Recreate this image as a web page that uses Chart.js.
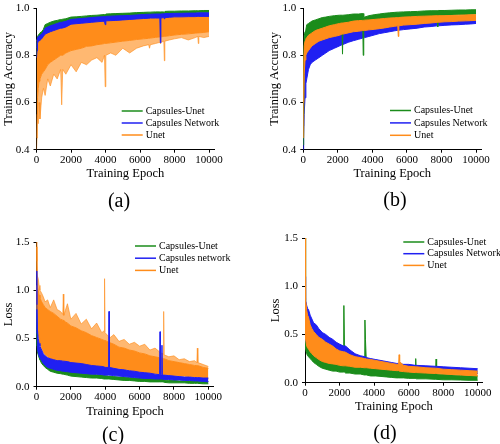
<!DOCTYPE html>
<html>
<head>
<meta charset="utf-8">
<script src="https://cdn.jsdelivr.net/npm/chart.js@4"></script>
<style>
body { margin: 0; background: #fff; }
#wrap { position: relative; width: 500px; height: 444px; }
.panel { position: absolute; width: 250px; height: 222px; }
.cap { position: absolute; font-family: "Liberation Serif", "Times New Roman", serif; font-size: 20px; transform: translate(-50%, -50%); color: #000; }
</style>
</head>
<body>
<div id="wrap">
  <div class="panel" style="left:0;top:0"><canvas id="chartA" width="250" height="222"></canvas></div>
  <div class="panel" style="left:250px;top:0"><canvas id="chartB" width="250" height="222"></canvas></div>
  <div class="panel" style="left:0;top:222px"><canvas id="chartC" width="250" height="222"></canvas></div>
  <div class="panel" style="left:250px;top:222px"><canvas id="chartD" width="250" height="222"></canvas></div>
  <div class="cap" style="left:119px;top:200px">(a)</div>
  <div class="cap" style="left:395px;top:199px">(b)</div>
  <div class="cap" style="left:113px;top:434px">(c)</div>
  <div class="cap" style="left:385px;top:432px">(d)</div>
</div>
<script>
// tick labels
const epochTicks = [0, 2000, 4000, 6000, 8000, 10000];
const accTicks = [0.4, 0.6, 0.8, 1.0];
const lossTicks = [0, 0.5, 1.0, 1.5];
const legendAB = ['Capsules-Unet', 'Capsules Network', 'Unet'];
const legendC = ['Capsules-Unet', 'Capsules network', 'Unet'];

// (a) training accuracy, upper / lower edge of each noisy band
const epochsA = [0,30,60,100,150,200,300,400,500,650, 800,1000,1200,1400,1460,1520,1700,2000,2300,2600, 2900,3200,3500,3800,3940,3980,4020,4300,4600,5000, 5400,5800,6200,6500,6550,6600,6900,7150,7180,7210, 7380,7410,7440,7700,8000,8400,8800,9200,9350,9380, 9410,9700,10000];
const greenHiA = [.84,.87,.88,.885,.89,.895,.90,.91,.93,.935, .94,.945,.948,.952,.952,.953,.955,.962,.963,.965, .967,.969,.97,.972,.973,.973,.975,.976,.977,.978, .979,.981,.982,.983,.983,.983,.984,.984,.984,.984, .984,.978,.986,.987,.987,.988,.988,.989,.989,.989, .989,.99,.99];
const greenLoA = [.80,.84,.86,.87,.872,.875,.88,.89,.905,.912, .918,.925,.93,.934,.934,.935,.938,.948,.95,.952, .954,.956,.958,.96,.96,.955,.962,.963,.965,.967, .968,.97,.972,.972,.972,.973,.973,.974,.974,.974, .974,.962,.976,.977,.978,.978,.979,.979,.98,.98, .98,.98,.98];
const blueHiA = [.83,.87,.875,.88,.882,.885,.89,.90,.915,.92, .925,.93,.935,.94,.94,.941,.944,.952,.954,.956, .958,.96,.962,.963,.964,.964,.965,.966,.967,.968, .969,.971,.973,.974,.974,.974,.975,.975,.975,.975, .976,.976,.977,.977,.978,.978,.979,.979,.98,.98, .98,.98,.98];
const blueLoA = [.79,.82,.85,.86,.862,.865,.87,.88,.89,.895, .90,.905,.91,.915,.915,.916,.92,.932,.934,.936, .938,.94,.942,.944,.944,.93,.946,.947,.948,.95, .952,.954,.956,.957,.957,.958,.958,.958,.853,.958, .96,.955,.96,.961,.963,.963,.964,.964,.965,.965, .965,.965,.965];
const orangeHiA = [.86,.865,.87,.875,.878,.88,.885,.89,.90,.903, .906,.91,.915,.92,.92,.921,.925,.935,.937,.94, .942,.944,.946,.948,.949,.949,.952,.953,.954,.955, .957,.96,.962,.963,.963,.963,.964,.965,.965,.965, .966,.966,.966,.967,.968,.969,.97,.97,.971,.971, .971,.972,.972];
const orangeLoA = [.45,.55,.62,.66,.69,.70,.72,.73,.74,.76, .77,.78,.79,.80,.80,.80,.81,.82,.825,.83, .838,.84,.845,.848,.85,.85,.85,.853,.856,.86, .863,.867,.87,.872,.872,.873,.876,.878,.878,.878, .88,.88,.88,.883,.886,.889,.891,.894,.895,.895, .895,.897,.90];
// lighter downward spikes under the dense orange band
const orangeSpikeA = [.40,.45,.55,.51,.60,.53,.62,.66,.63,.70, .67,.72,.70,.74,.59,.74,.72,.76,.73,.77, .76,.78,.79,.77,.80,.667,.80,.81,.80,.83, .81,.83,.84,.845,.83,.845,.85,.855,.85,.855, .86,.777,.86,.865,.87,.875,.865,.875,.88,.85, .88,.875,.88];

// (b) training accuracy
const epochsB = [0,20,50,100,150,200,300,400,500,700, 900,1100,1300,1500,1800,2100,2240,2270,2300,2600, 2900,3200,3440,3470,3500,3550,3800,4100,4400,4700, 5000,5300,5470,5500,5530,5800,6200,6600,7000,7400, 7750,7780,7810,8200,8600,9000,9400,9700,10000];
const greenHiB = [.55,.80,.88,.90,.91,.93,.935,.94,.945,.95, .955,.96,.962,.965,.968,.97,.97,.97,.97,.972, .975,.975,.977,.977,.96,.962,.968,.972,.975,.978, .98,.982,.983,.983,.983,.984,.985,.986,.988,.989, .989,.989,.99,.99,.991,.992,.992,.993,.993];
const greenLoB = [.42,.60,.80,.85,.86,.87,.88,.885,.89,.895, .90,.905,.91,.915,.92,.925,.925,.805,.93,.93, .935,.94,.94,.80,.93,.94,.945,.948,.95,.952, .955,.957,.958,.958,.958,.96,.962,.963,.965,.966, .967,.92,.968,.97,.971,.972,.973,.974,.975];
const blueHiB = [.50,.62,.70,.78,.80,.82,.83,.84,.85,.86, .87,.875,.88,.885,.89,.895,.896,.896,.897,.90, .905,.91,.913,.913,.915,.915,.917,.92,.923,.926, .93,.933,.935,.935,.935,.937,.94,.943,.945,.947, .95,.95,.95,.952,.954,.955,.956,.957,.958];
const blueLoB = [.40,.45,.55,.62,.68,.70,.74,.76,.77,.78, .79,.80,.81,.82,.83,.84,.845,.845,.846,.855, .862,.868,.873,.873,.874,.875,.88,.886,.892,.896, .90,.904,.906,.906,.906,.909,.912,.915,.92,.922, .925,.925,.925,.927,.929,.93,.932,.933,.935];
const orangeHiB = [.60,.78,.84,.86,.87,.875,.885,.89,.895,.905, .91,.915,.92,.925,.93,.935,.937,.937,.937,.94, .945,.947,.948,.948,.948,.949,.95,.952,.954,.956, .958,.959,.96,.96,.96,.962,.963,.965,.966,.967, .968,.968,.968,.968,.969,.97,.971,.972,.972];
const orangeLoB = [.45,.60,.72,.78,.80,.81,.82,.83,.84,.85, .86,.865,.87,.875,.88,.885,.89,.89,.89,.895, .90,.902,.905,.905,.905,.905,.908,.91,.913,.916, .92,.923,.925,.88,.925,.928,.93,.932,.935,.937, .94,.94,.94,.942,.943,.945,.946,.947,.948];

// (c) loss
const epochsC = [0,20,50,100,150,200,300,400,500,650, 800,1000,1200,1400,1530,1560,1590,1800,2000,2300, 2600,2900,3200,3500,3800,3930,3960,3990,4200,4220, 4240,4500,4800,5100,5400,5700,6000,6300,6600,6900, 7170,7190,7210,7280,7300,7320,7370,7400,7430,7700, 8000,8300,8600,8900,9200,9330,9360,9390,9700,10000];
const greenHiC = [.85,.60,.45,.40,.37,.35,.31,.28,.26,.24, .22,.20,.19,.18,.175,.175,.175,.165,.155,.15, .145,.14,.13,.125,.12,.12,.12,.115,.11,.11, .11,.105,.10,.10,.095,.09,.09,.085,.085,.08, .08,.08,.08,.08,.08,.08,.08,.085,.07,.065, .065,.06,.06,.06,.06,.06,.06,.06,.055,.055];
const greenLoC = [.60,.42,.36,.33,.30,.28,.24,.22,.20,.18, .16,.15,.14,.135,.13,.13,.13,.12,.11,.105, .10,.095,.09,.09,.085,.08,.08,.08,.08,.08, .08,.075,.07,.065,.065,.06,.055,.055,.05,.05, .05,.05,.05,.05,.05,.05,.05,.05,.045,.04, .04,.04,.04,.035,.035,.035,.035,.035,.03,.03];
const blueHiC = [1.20,.85,.60,.50,.45,.42,.38,.34,.32,.30, .29,.28,.27,.27,.265,.265,.265,.26,.25,.245, .24,.23,.22,.215,.21,.205,.205,.20,.20,.78, .20,.19,.18,.175,.165,.16,.15,.145,.14,.13, .125,.57,.125,.12,.43,.12,.12,.12,.12,.115, .11,.105,.10,.10,.095,.095,.095,.095,.09,.09];
const blueLoC = [.80,.55,.40,.35,.32,.30,.27,.24,.22,.20, .19,.18,.17,.165,.16,.16,.16,.155,.15,.145, .14,.135,.13,.13,.125,.12,.12,.12,.12,.12, .12,.115,.11,.105,.10,.095,.09,.085,.085,.08, .08,.08,.08,.08,.08,.08,.075,.075,.075,.075, .07,.07,.065,.065,.06,.06,.06,.06,.055,.05];
const orangeHiC = [1.45,1.20,1.05,1.00,.95,.92,.88,.85,.82,.80, .78,.76,.73,.70,.69,.69,.68,.66,.63,.61, .58,.56,.53,.51,.49,.48,.48,.48,.46,.46, .46,.44,.41,.40,.38,.37,.35,.34,.32,.31, .30,.30,.30,.30,.30,.30,.29,.29,.29,.27, .26,.25,.24,.23,.22,.22,.22,.22,.20,.19];
const orangeLoC = [1.05,.80,.62,.55,.50,.45,.40,.36,.33,.31, .29,.27,.265,.26,.255,.255,.255,.25,.24,.235, .23,.22,.215,.21,.20,.20,.20,.20,.195,.195, .195,.19,.185,.18,.17,.16,.15,.145,.14,.135, .13,.13,.13,.13,.13,.13,.125,.125,.125,.12, .115,.11,.11,.105,.10,.10,.10,.10,.09,.08];
// lighter upward spikes above the dense orange band
const orangeSpikeC = [1.50,1.30,1.15,1.12,1.05,1.00,.97,.93,.88,.90, .82,.90,.80,.78,.75,.96,.74,.86,.70,.76, .65,.70,.60,.66,.56,.58,1.12,.56,.52,.50, .50,.54,.47,.49,.44,.46,.42,.44,.38,.40, .36,.35,.36,.34,.35,.34,.34,.78,.33,.31, .32,.28,.29,.26,.27,.25,.40,.25,.23,.21];

// (d) loss
const epochsD = [0,20,50,100,150,200,300,400,500,650, 800,1000,1200,1400,1600,1800,2000,2220,2250,2280, 2350,2600,2900,3200,3440,3470,3500,3560,3800,4100, 4400,4700,5000,5300,5420,5450,5480,5700,6000,6380, 6410,6440,7000,7560,7590,7620,8000,8500,9000,9500, 10000];
const greenHiD = [1.50,.80,.55,.45,.42,.40,.37,.35,.33,.31, .29,.27,.26,.25,.24,.23,.22,.22,.80,.40, .22,.21,.20,.19,.19,.65,.45,.18,.18,.17, .16,.155,.15,.14,.14,.14,.14,.13,.12,.115, .25,.11,.10,.095,.245,.09,.085,.08,.075,.07, .07];
const greenLoD = [.70,.45,.35,.30,.28,.27,.25,.23,.21,.19, .17,.15,.14,.13,.12,.12,.11,.11,.11,.11, .10,.10,.09,.09,.08,.08,.08,.08,.07,.07, .065,.06,.055,.05,.05,.05,.05,.05,.045,.045, .045,.04,.04,.035,.035,.035,.03,.03,.028,.025, .025];
const blueHiD = [1.10,.95,.85,.80,.77,.76,.70,.66,.62,.60, .56,.52,.50,.47,.45,.42,.40,.38,.38,.38, .38,.34,.30,.28,.27,.27,.27,.26,.25,.24, .23,.22,.21,.20,.20,.20,.20,.19,.19,.18, .18,.18,.175,.17,.17,.17,.165,.16,.155,.15, .145];
const blueLoD = [.60,.55,.45,.40,.38,.37,.35,.33,.31,.30, .28,.27,.26,.25,.24,.23,.22,.21,.21,.21, .21,.20,.19,.18,.18,.18,.18,.175,.17,.16, .155,.15,.145,.14,.14,.14,.14,.13,.13,.125, .125,.125,.12,.115,.115,.115,.11,.105,.10,.10, .095];
const orangeHiD = [1.50,1.00,.85,.75,.70,.68,.60,.56,.53,.50, .47,.45,.42,.40,.38,.35,.33,.32,.32,.32, .315,.29,.27,.26,.25,.25,.25,.245,.24,.23, .22,.21,.20,.19,.19,.29,.22,.18,.17,.165, .165,.165,.155,.15,.15,.15,.14,.135,.13,.125, .12];
const orangeLoD = [.80,.55,.45,.38,.36,.35,.32,.30,.28,.26, .24,.22,.21,.20,.195,.19,.18,.175,.175,.175, .175,.17,.16,.16,.155,.155,.155,.155,.15,.145, .14,.135,.13,.125,.125,.12,.12,.115,.11,.105, .105,.105,.10,.095,.095,.095,.09,.085,.08,.075, .07];

const FONT = '"Liberation Serif", "Times New Roman", serif';
const COLORS = { green: '#1b8c1b', blue: '#2020f2', orange: '#ff8c1a' };
const ORANGE_LIGHT = 'rgba(255, 140, 26, 0.62)';

// noisy curve drawn as a band: upper edge line + lower edge line filled up to it
function band(xs, hi, lo, color, spike, spikeFill) {
    const pts = arr => xs.map((x, i) => ({ x: x, y: arr[i] }));
    const sets = [
        { data: pts(hi), borderColor: color, borderWidth: 1, pointRadius: 0, fill: false },
        { data: pts(lo), borderColor: color, backgroundColor: color, borderWidth: 1, pointRadius: 0, fill: '-1' }
    ];
    if (spike) {
        sets.push({ data: pts(spike), borderColor: ORANGE_LIGHT, backgroundColor: ORANGE_LIGHT, borderWidth: 1, pointRadius: 0, fill: spikeFill });
    }
    return sets;
}

// small legend drawn inside the plot like the original figure
const panelLegend = {
    id: 'panelLegend',
    afterDraw(chart, args, opts) {
        const ctx = chart.ctx;
        ctx.save();
        ctx.font = '10px ' + FONT;
        ctx.textBaseline = 'middle';
        opts.items.forEach((item, i) => {
            const y = opts.y + i * opts.gap;
            ctx.strokeStyle = item.color;
            ctx.lineWidth = 1.5;
            ctx.beginPath();
            ctx.moveTo(opts.x, y);
            ctx.lineTo(opts.x + opts.len, y);
            ctx.stroke();
            ctx.fillStyle = '#000';
            ctx.fillText(item.text, opts.x + opts.len + 3, y);
        });
        ctx.restore();
    }
};

function makePanel(canvasId, p) {
    const sets = {
        green: band(p.xs, p.greenHi, p.greenLo, COLORS.green),
        blue: band(p.xs, p.blueHi, p.blueLo, COLORS.blue),
        orange: band(p.xs, p.orangeHi, p.orangeLo, COLORS.orange, p.orangeSpike, p.spikeFill)
    };
    // first in list is drawn on top
    const datasets = [];
    p.order.forEach(k => datasets.push(...sets[k]));

    new Chart(document.getElementById(canvasId), {
        type: 'line',
        data: { datasets: datasets },
        plugins: [panelLegend],
        options: {
            responsive: false,
            animation: false,
            events: [],
            layout: { padding: p.pad },
            elements: { line: { tension: 0 } },
            plugins: {
                legend: { display: false },
                tooltip: { enabled: false },
                panelLegend: {
                    x: p.leg[0], y: p.leg[1], gap: p.leg[2], len: 21,
                    items: [
                        { text: p.names[0], color: COLORS.green },
                        { text: p.names[1], color: COLORS.blue },
                        { text: p.names[2], color: COLORS.orange }
                    ]
                }
            },
            scales: {
                x: {
                    type: 'linear', min: 0, max: 10300,
                    afterBuildTicks: s => { s.ticks = epochTicks.map(v => ({ value: v })); },
                    afterFit: s => { s.height = p.xHeight; },
                    border: { color: '#000', width: 1 },
                    grid: { drawOnChartArea: false, tickLength: 3, color: '#000' },
                    ticks: { color: '#000', padding: 1, maxRotation: 0, font: { family: FONT, size: 11 }, callback: v => String(v) },
                    title: { display: true, text: 'Training Epoch', color: '#000', padding: 0, font: { family: FONT, size: 12.5 } }
                },
                y: {
                    min: p.yTicks[0], max: p.yTicks[p.yTicks.length - 1],
                    afterBuildTicks: s => { s.ticks = p.yTicks.map(v => ({ value: v })); },
                    afterFit: s => { s.width = p.yWidth; },
                    border: { color: '#000', width: 1 },
                    grid: { drawOnChartArea: false, tickLength: 3, color: '#000' },
                    ticks: { color: '#000', padding: 4, font: { family: FONT, size: 11, lineHeight: 0.75 }, callback: v => v.toFixed(1) },
                    title: { display: true, text: p.yTitle, color: '#000', padding: 0, font: { family: FONT, size: 12.5 } }
                }
            }
        }
    });
}

makePanel('chartA', {
    xs: epochsA, greenHi: greenHiA, greenLo: greenLoA, blueHi: blueHiA, blueLo: blueLoA, orangeHi: orangeHiA, orangeLo: orangeLoA,
    orangeSpike: orangeSpikeA, spikeFill: '-1',
    order: ['blue', 'orange', 'green'], names: legendAB, yTicks: accTicks, yTitle: 'Training Accuracy',
    pad: { left: 1.5, right: 35.8, top: 4.3, bottom: 41.2 }, yWidth: 35, xHeight: 31.1, leg: [121.7, 111, 12]
});
makePanel('chartB', {
    xs: epochsB, greenHi: greenHiB, greenLo: greenLoB, blueHi: blueHiB, blueLo: blueLoB, orangeHi: orangeHiB, orangeLo: orangeLoB,
    order: ['orange', 'green', 'blue'], names: legendAB, yTicks: accTicks, yTitle: 'Training Accuracy',
    pad: { left: 17.2, right: 18.8, top: 4.3, bottom: 41.2 }, yWidth: 36.1, xHeight: 31.1, leg: [140, 110.5, 12.4]
});
makePanel('chartC', {
    xs: epochsC, greenHi: greenHiC, greenLo: greenLoC, blueHi: blueHiC, blueLo: blueLoC, orangeHi: orangeHiC, orangeLo: orangeLoC,
    orangeSpike: orangeSpikeC, spikeFill: '-2',
    order: ['blue', 'orange', 'green'], names: legendC, yTicks: lossTicks, yTitle: 'Loss',
    pad: { left: 1.5, right: 36.5, top: 20, bottom: 24.9 }, yWidth: 35, xHeight: 32.4, leg: [135, 24, 12.2]
});
makePanel('chartD', {
    xs: epochsD, greenHi: greenHiD, greenLo: greenLoD, blueHi: blueHiD, blueLo: blueLoD, orangeHi: orangeHiD, orangeLo: orangeLoD,
    order: ['orange', 'blue', 'green'], names: legendAB, yTicks: lossTicks, yTitle: 'Loss',
    pad: { left: 18.2, right: 17.1, top: 16, bottom: 29.9 }, yWidth: 36.8, xHeight: 31.4, leg: [153.3, 20, 11.7]
});
</script>
</body>
</html>
